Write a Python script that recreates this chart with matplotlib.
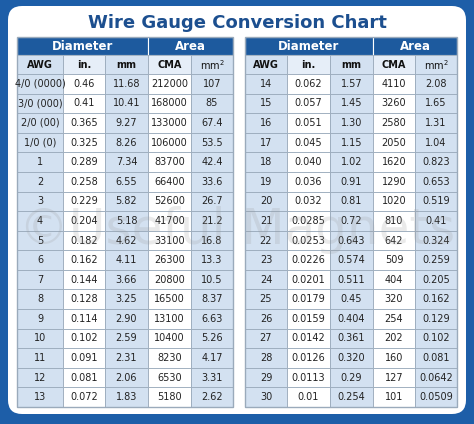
import matplotlib
matplotlib.use("Agg")
import matplotlib.pyplot as plt
from matplotlib.patches import FancyBboxPatch, Rectangle

awg_l = ["4/0 (0000)", "3/0 (000)", "2/0 (00)", "1/0 (0)", "1", "2", "3", "4", "5", "6", "7", "8", "9", "10", "11", "12", "13"]
in_l = ["0.46", "0.41", "0.365", "0.325", "0.289", "0.258", "0.229", "0.204", "0.182", "0.162", "0.144", "0.128", "0.114", "0.102", "0.091", "0.081", "0.072"]
mm_l = ["11.68", "10.41", "9.27", "8.26", "7.34", "6.55", "5.82", "5.18", "4.62", "4.11", "3.66", "3.25", "2.90", "2.59", "2.31", "2.06", "1.83"]
cma_l = ["212000", "168000", "133000", "106000", "83700", "66400", "52600", "41700", "33100", "26300", "20800", "16500", "13100", "10400", "8230", "6530", "5180"]
mm2_l = ["107", "85", "67.4", "53.5", "42.4", "33.6", "26.7", "21.2", "16.8", "13.3", "10.5", "8.37", "6.63", "5.26", "4.17", "3.31", "2.62"]

awg_r = [str(i) for i in range(14, 31)]
in_r = ["0.062", "0.057", "0.051", "0.045", "0.040", "0.036", "0.032", "0.0285", "0.0253", "0.0226", "0.0201", "0.0179", "0.0159", "0.0142", "0.0126", "0.0113", "0.01"]
mm_r = ["1.57", "1.45", "1.30", "1.15", "1.02", "0.91", "0.81", "0.72", "0.643", "0.574", "0.511", "0.45", "0.404", "0.361", "0.320", "0.29", "0.254"]
cma_r = ["4110", "3260", "2580", "2050", "1620", "1290", "1020", "810", "642", "509", "404", "320", "254", "202", "160", "127", "101"]
mm2_r = ["2.08", "1.65", "1.31", "1.04", "0.823", "0.653", "0.519", "0.41", "0.324", "0.259", "0.205", "0.162", "0.129", "0.102", "0.081", "0.0642", "0.0509"]

sub_headers = ["AWG", "in.", "mm", "CMA", "mm$^2$"]

W, H = 474, 424
fig = plt.figure(figsize=(W/100, H/100), dpi=100)
fig.patch.set_facecolor("#1d5ea8")
ax = fig.add_axes([0, 0, 1, 1])
ax.set_xlim(0, W); ax.set_ylim(H, 0); ax.axis("off")

ax.add_patch(FancyBboxPatch((8, 6), W-16, 408, boxstyle="round,pad=0,rounding_size=14",
                            fc="white", ec="none"))
ax.text(W/2, 23, "Wire Gauge Conversion Chart", ha="center", va="center",
        fontsize=13, fontweight="bold", color="#1c4f8f", family="DejaVu Sans")

ax.text(W/2, 230, "©Useful Magnets", ha="center", va="center", fontsize=36,
        color="#999999", alpha=0.2, zorder=10)

dark = "#1d5a9e"
light = "#d3e1f1"
edge = "#9aaabb"
row_top = 74
row_h = (407 - 74) / 17

def draw_table(edges, cols):
    ax.add_patch(Rectangle((edges[0], 37), edges[3]-edges[0], 18, fc=dark, ec="white", lw=0.8))
    ax.add_patch(Rectangle((edges[3], 37), edges[5]-edges[3], 18, fc=dark, ec="white", lw=0.8))
    ax.text((edges[0]+edges[3])/2, 46, "Diameter", ha="center", va="center", color="white", fontsize=8.5, fontweight="bold")
    ax.text((edges[3]+edges[5])/2, 46, "Area", ha="center", va="center", color="white", fontsize=8.5, fontweight="bold")
    for j in range(5):
        fc = light if j in (0, 2, 4) else "white"
        ax.add_patch(Rectangle((edges[j], 55), edges[j+1]-edges[j], 19, fc=light if j not in (1, 3) else "#e6eef8", ec=edge, lw=0.6))
        ax.text((edges[j]+edges[j+1])/2, 65, sub_headers[j], ha="center", va="center",
                fontsize=7, fontweight="bold" if j < 4 else "normal", color="#111111")
        for i, v in enumerate(cols[j]):
            y = row_top + i*row_h
            ax.add_patch(Rectangle((edges[j], y), edges[j+1]-edges[j], row_h, fc=fc, ec=edge, lw=0.6))
            ax.text((edges[j]+edges[j+1])/2, y+row_h/2, v, ha="center", va="center",
                    fontsize=7, color="#222222")
    ax.add_patch(Rectangle((edges[0], 37), edges[5]-edges[0], 407-37, fc="none", ec=edge, lw=1))

draw_table([17, 63, 105, 148, 191, 233], [awg_l, in_l, mm_l, cma_l, mm2_l])
draw_table([245, 287, 330, 373, 415, 457], [awg_r, in_r, mm_r, cma_r, mm2_r])

fig.savefig("out.png", dpi=100, facecolor=fig.get_facecolor())
